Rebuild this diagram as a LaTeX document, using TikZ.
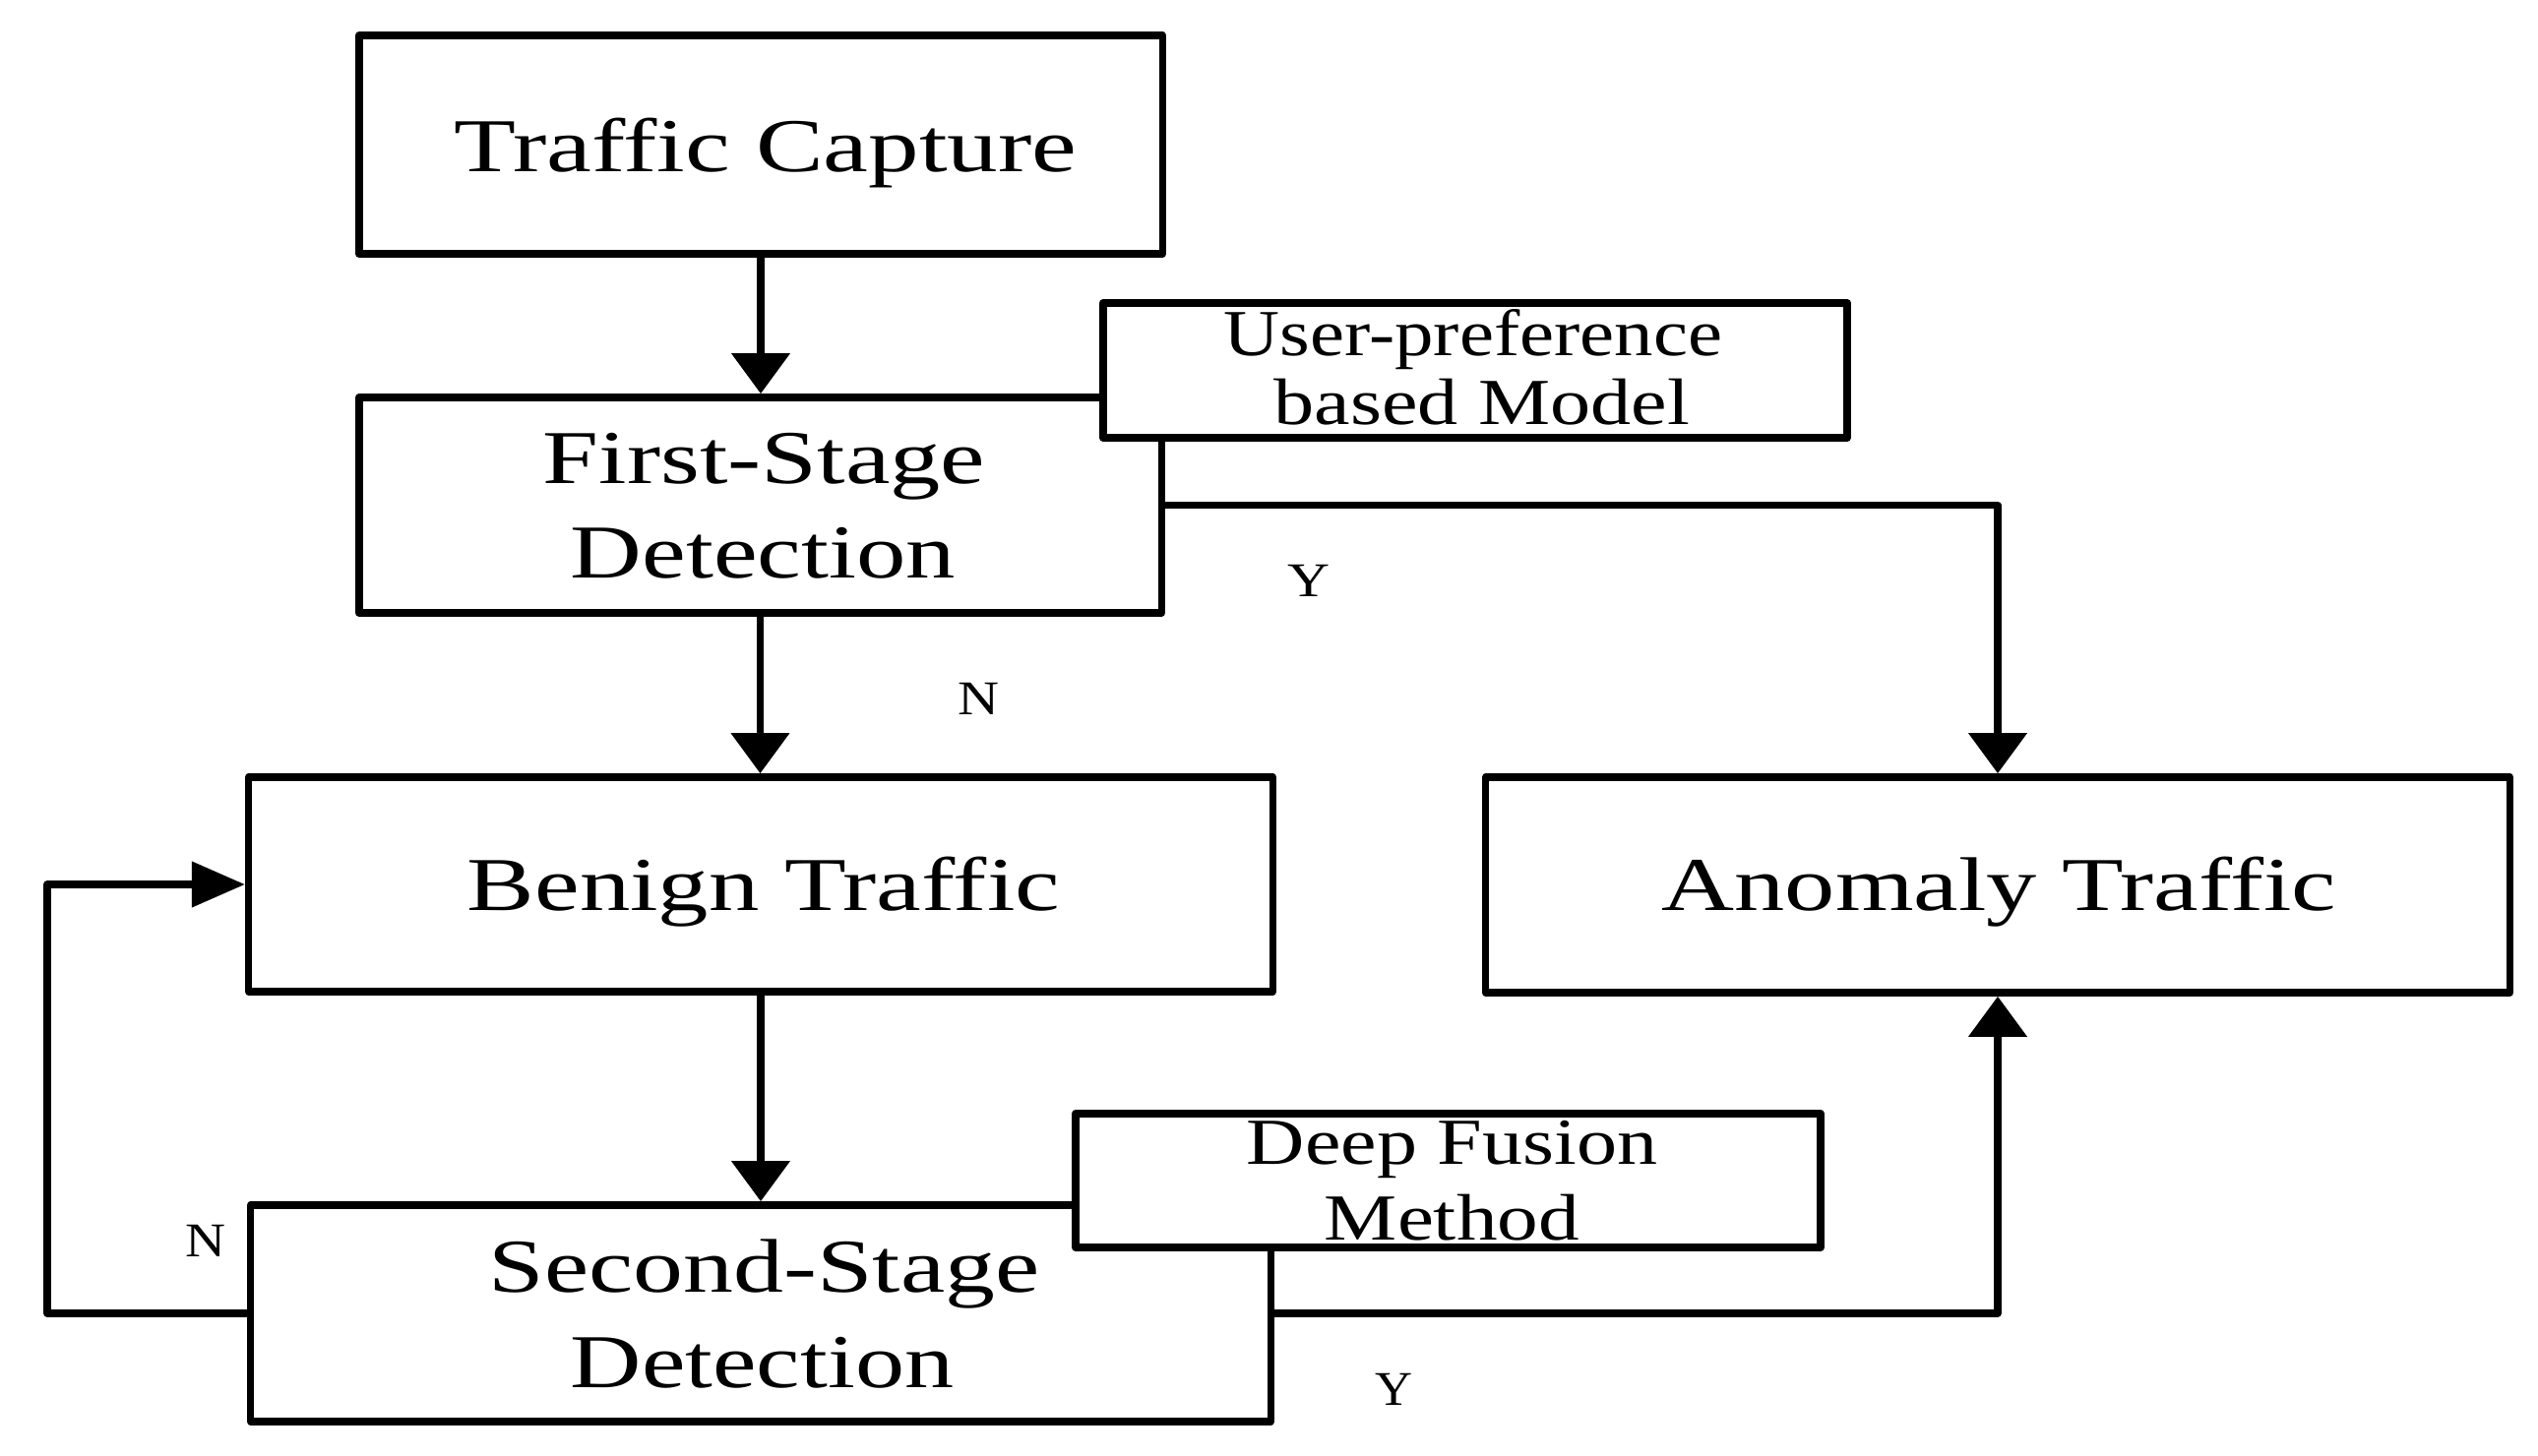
\documentclass[tikz,border=0pt]{standalone}
\usepackage{fontspec}
\setmainfont{Liberation Serif}
\usetikzlibrary{arrows.meta}
\newcommand\hw[2]{\resizebox{#1}{\height}{#2}}
\begin{document}
\begin{tikzpicture}[x=0.01cm,y=-0.01cm,
  box/.style={draw,line width=0.075cm,fill=white,inner sep=0pt,line join=round},
  big/.style={anchor=base,inner sep=0pt,font=\fontsize{22pt}{22pt}\selectfont},
  small/.style={anchor=base,inner sep=0pt,font=\fontsize{19pt}{19pt}\selectfont},
  lab/.style={anchor=base,inner sep=0pt,font=\fontsize{14pt}{14pt}\selectfont},
  con/.style={line width=0.075cm,line join=round},
  vtip/.style={-{Triangle[length=0.41cm,width=0.58cm]}},
  htip/.style={-{Triangle[length=0.54cm,width=0.45cm]}}]
\useasboundingbox (0,0) rectangle (2579,1480);
% boxes
\node[box,minimum width=8.16cm,minimum height=2.22cm] (tc) at (773,147) {};
\node[box,minimum width=8.15cm,minimum height=2.19cm] (fs) at (772.5,513.5) {};
\node[box,minimum width=7.56cm,minimum height=1.37cm] (up) at (1499,376.5) {};
\node[box,minimum width=10.40cm,minimum height=2.18cm] (bt) at (773,899) {};
\node[box,minimum width=10.40cm,minimum height=2.19cm] (at) at (2030,899.5) {};
\node[box,minimum width=10.36cm,minimum height=2.20cm] (ss) at (773,1335) {};
\node[box,minimum width=7.57cm,minimum height=1.36cm] (df) at (1471.5,1200) {};
% texts
\node[big] (tct) at (778,175) {\hw{6.32cm}{Traffic Capture}};
\node[big] (fst1) at (776.5,492) {\hw{4.49cm}{First-Stage}};
\node[big] (fst2) at (775.5,588) {\hw{3.91cm}{Detection}};
\node[small] (upt1) at (1497,362) {\hw{5.06cm}{User-preference}};
\node[small] (upt2) at (1506,432) {\hw{4.22cm}{based Model}};
\node[big] (btt) at (776,926) {\hw{6.02cm}{Benign Traffic}};
\node[big] (att) at (2031.5,926) {\hw{6.85cm}{Anomaly Traffic}};
\node[big] (sst1) at (776.5,1313) {\hw{5.59cm}{Second-Stage}};
\node[big] (sst2) at (774.5,1410) {\hw{3.89cm}{Detection}};
\node[small] (dft1) at (1475.5,1183) {\hw{4.17cm}{Deep Fusion}};
\node[small] (dft2) at (1475.5,1260) {\hw{2.59cm}{Method}};
% labels
\node[lab] (y1) at (1330,607) {\hw{0.43cm}{Y}};
\node[lab] (n1) at (994,727) {\hw{0.42cm}{N}};
\node[lab] (n2) at (209,1277) {\hw{0.41cm}{N}};
\node[lab] (y2) at (1416,1428) {\hw{0.38cm}{Y}};
% connectors
\coordinate (lp) at (48,1335);
\draw[con,vtip] (tc.south) -- (tc.south |- fs.north);
\draw[con,vtip] (fs.south) -- (fs.south |- bt.north);
\draw[con,vtip] (bt.south) -- (bt.south |- ss.north);
\draw[con,vtip] (fs.east) -| (at.north);
\draw[con,vtip] (ss.east) -| (at.south);
\draw[con,htip] (ss.west) -- (lp) |- (bt.west);
\end{tikzpicture}
\end{document}
